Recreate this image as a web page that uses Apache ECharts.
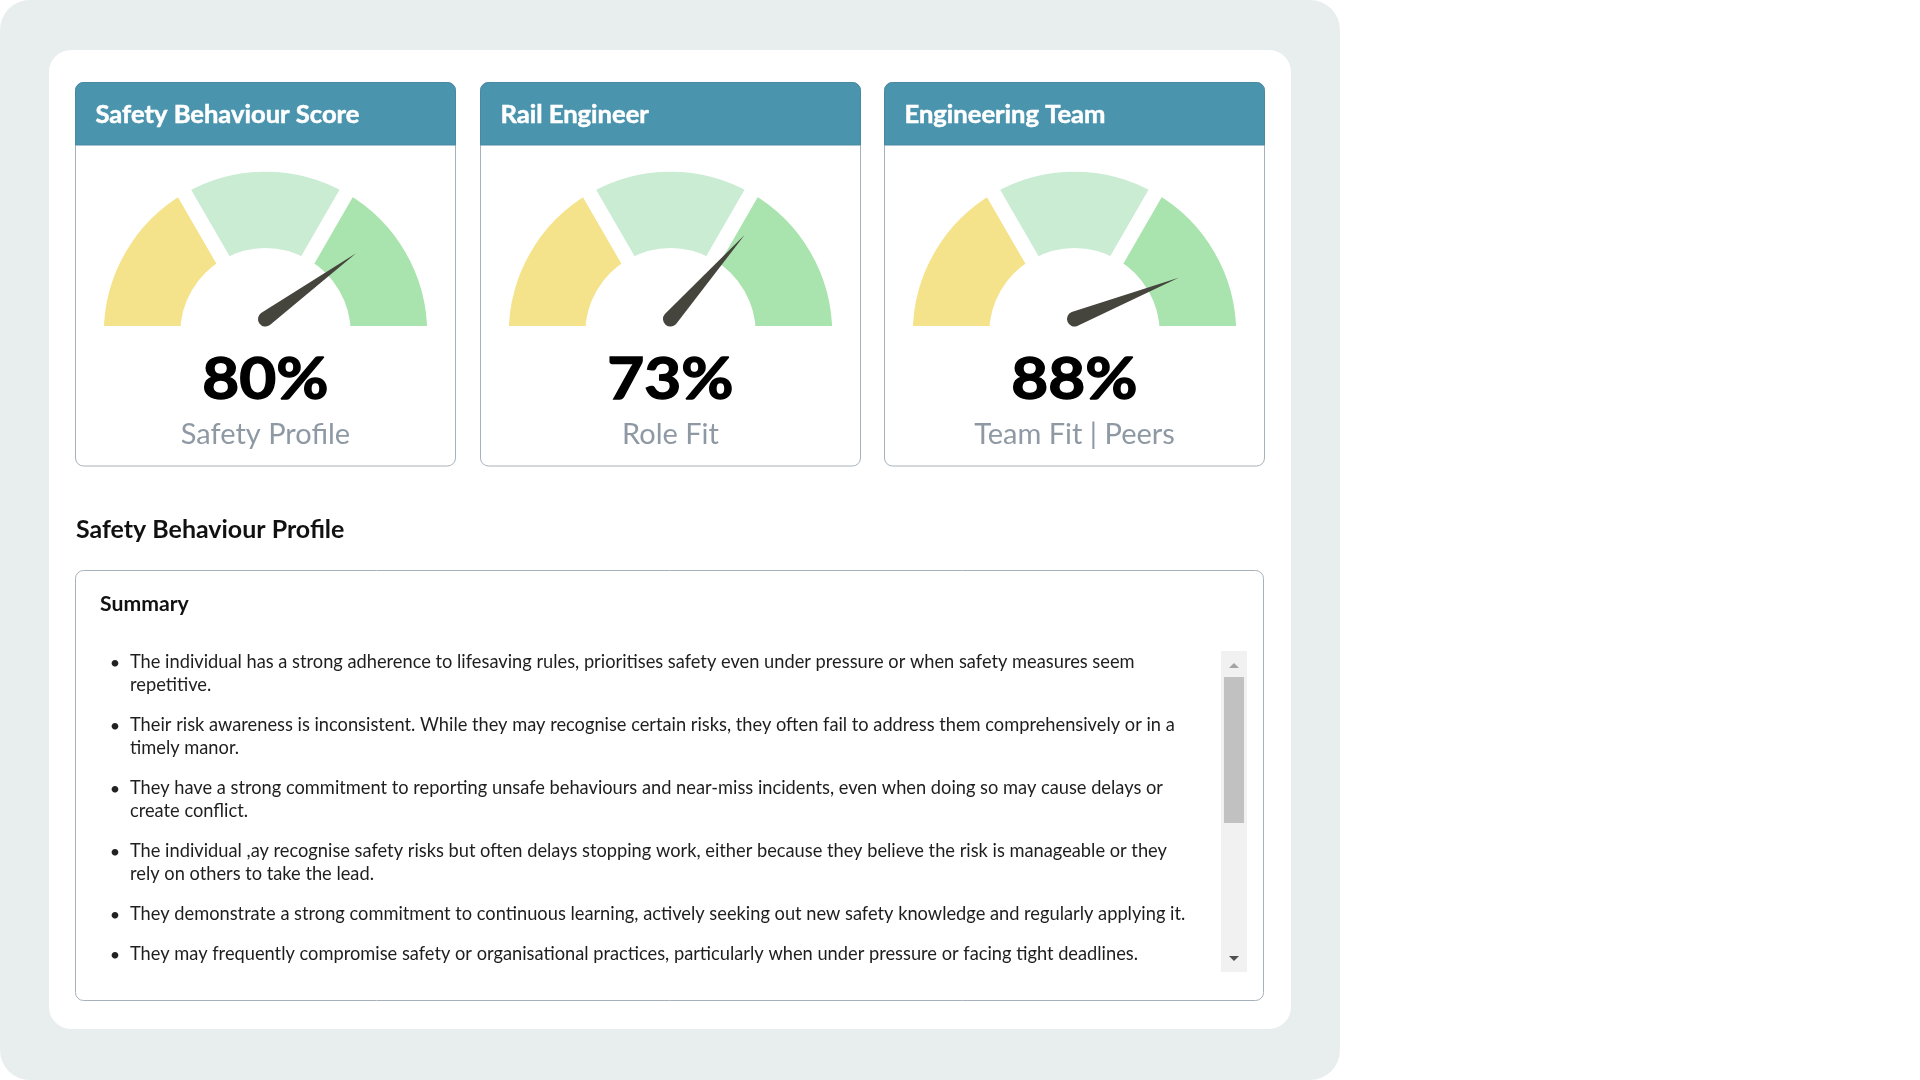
<!DOCTYPE html>
<html>
<head>
<meta charset="utf-8">
<script src="https://cdn.jsdelivr.net/npm/echarts@6/dist/echarts.min.js"></script>
<style>
html,body{margin:0;padding:0;background:#ffffff;}
#main{width:1920px;height:1080px;}
</style>
</head>
<body>
<div id="main"></div>
<script>
// ---------------- data ----------------
const cardTitles = ['Safety Behaviour Score', 'Rail Engineer', 'Engineering Team'];
const gaugeValues = [80, 73, 88];
const gaugeNames = ['Safety Profile', 'Role Fit', 'Team Fit | Peers'];
const bandValues = [33.33, 33.33, 33.34];
const bandColors = ['#F5E38B', '#C9ECD3', '#A9E3AE'];
const gaugeMin = 0;
const gaugeMax = 100;
const sectionTitle = 'Safety Behaviour Profile';
const summaryTitle = 'Summary';
const summaryPoints = [
  ['The individual has a strong adherence to lifesaving rules, prioritises safety even under pressure or when safety measures seem', 'repetitive.'],
  ['Their risk awareness is inconsistent. While they may recognise certain risks, they often fail to address them comprehensively or in a', 'timely manor.'],
  ['They have a strong commitment to reporting unsafe behaviours and near-miss incidents, even when doing so may cause delays or', 'create conflict.'],
  ['The individual ,ay recognise safety risks but often delays stopping work, either because they believe the risk is manageable or they', 'rely on others to take the lead.'],
  ['They demonstrate a strong commitment to continuous learning, actively seeking out new safety knowledge and regularly applying it.'],
  ['They may frequently compromise safety or organisational practices, particularly when under pressure or facing tight deadlines.']
];

// ---------------- layout ----------------
const FONT = 'Lato';
const cardX = [75.5, 480.5, 884.5];
const cardW = 380, cardTop = 82.5, cardH = 383.5, headerH = 62.5;
const pieCY = 333.4, pivotY = 319;
const borderCol = '#A7B1BA';

const chart = echarts.init(document.getElementById('main'), null, {renderer: 'canvas'});

function txt(text, x, y, size, weight, color, align, sx, sw) {
  const style = {
    text: text, fontSize: size, fontWeight: weight, fontFamily: FONT, fill: color,
    textAlign: align || 'left', align: align || 'left',
    textVerticalAlign: 'middle', verticalAlign: 'middle'
  };
  if (sw) { style.stroke = color; style.lineWidth = sw; style.lineJoin = 'round'; }
  return {type: 'text', x: x, y: y, silent: true, scaleX: sx || 1, scaleY: 1, style: style};
}

const graphics = [];
graphics.push({type: 'rect', silent: true, shape: {x: 0, y: 0, width: 1340, height: 1080, r: 30}, style: {fill: '#E8EEED'}});
graphics.push({type: 'rect', silent: true, shape: {x: 49, y: 50, width: 1242, height: 979, r: 22}, style: {fill: '#FFFFFF'}});

cardX.forEach(function (x, i) {
  graphics.push({type: 'rect', silent: true, shape: {x: x, y: cardTop, width: cardW, height: cardH, r: 8}, style: {fill: '#FFFFFF', stroke: borderCol, lineWidth: 1}});
  graphics.push({type: 'rect', silent: true, shape: {x: x, y: cardTop, width: cardW, height: headerH, r: [8, 8, 0, 0]}, style: {fill: '#4A94AE', stroke: '#4889A2', lineWidth: 1}});
  graphics.push(txt(cardTitles[i], x + 20, 115, 24, 'bold', '#FFFFFF', 'left', 1.065, 0.5));
  // percentage value, built from the data
  graphics.push(txt(gaugeValues[i] + '%', x + cardW / 2, 380, 58, 'bold', '#000000', 'center', 1.1, 1.4));
});

graphics.push(txt(sectionTitle, 76, 530, 24, 'bold', '#111111', 'left', 1.04));
graphics.push({type: 'rect', silent: true, shape: {x: 75.5, y: 570.5, width: 1188, height: 430, r: 8}, style: {fill: '#FFFFFF', stroke: borderCol, lineWidth: 1}});
graphics.push(txt(summaryTitle, 100, 605, 20, 'bold', '#111111', 'left', 1.06));

let by = 668.9;
const lineH = 23, paraGap = 17;
summaryPoints.forEach(function (lines) {
  graphics.push(txt('\u2022', 115, by - 6, 18, 'normal', '#222222', 'center'));
  lines.forEach(function (ln, k) {
    graphics.push(txt(ln, 130, by - 7 + k * lineH, 18.25, 'normal', '#1E1E1E', 'left'));
  });
  by += lines.length * lineH + paraGap;
});

graphics.push({type: 'rect', silent: true, shape: {x: 1221, y: 651, width: 26, height: 321}, style: {fill: '#F1F1F1'}});
graphics.push({type: 'rect', silent: true, shape: {x: 1224, y: 677, width: 20, height: 146}, style: {fill: '#C1C1C1'}});
graphics.push({type: 'polygon', silent: true, shape: {points: [[1229, 668], [1239, 668], [1234, 663]]}, style: {fill: '#A3A3A3'}});
graphics.push({type: 'polygon', silent: true, shape: {points: [[1229, 956], [1239, 956], [1234, 961]]}, style: {fill: '#505050'}});

const series = [];
cardX.forEach(function (x, i) {
  const cx = x + cardW / 2;
  const pieData = bandValues.map(function (v, k) {
    return {value: v, name: 'band' + k, itemStyle: {color: bandColors[k]}};
  });
  pieData.push({value: gaugeMax - gaugeMin, name: 'hidden', itemStyle: {color: 'rgba(0,0,0,0)', borderWidth: 0}});
  series.push({
    type: 'pie', silent: true, animation: false, z: 2,
    center: [cx, pieCY], radius: [77.8, 169.2],
    startAngle: 180, clockwise: true,
    label: {show: false}, labelLine: {show: false},
    emphasis: {disabled: true},
    itemStyle: {borderColor: '#FFFFFF', borderWidth: 15},
    data: pieData
  });
  series.push({
    type: 'gauge', silent: true, animation: false, z: 3,
    center: [cx, pivotY], radius: 120,
    startAngle: 180, endAngle: 0, min: gaugeMin, max: gaugeMax,
    axisLine: {show: false}, splitLine: {show: false}, axisTick: {show: false}, axisLabel: {show: false},
    progress: {show: false}, anchor: {show: false},
    pointer: {
      show: true,
      icon: 'path://M7.5 0 L15 112 A7.5 7.5 0 0 1 0 112 Z',
      length: 119.5, width: 15, offsetCenter: [0, 7.5], keepAspect: false,
      itemStyle: {color: '#45443D'}
    },
    itemStyle: {color: '#45443D'},
    title: {show: true, offsetCenter: [0, 115.5], fontSize: 29, fontFamily: FONT, color: '#8E99A4', fontWeight: 'normal'},
    detail: {show: false},
    data: [{value: gaugeValues[i], name: gaugeNames[i]}]
  });
});

chart.setOption({
  animation: false,
  backgroundColor: '#FFFFFF',
  graphic: {elements: graphics},
  series: series
});
</script>
</body>
</html>
